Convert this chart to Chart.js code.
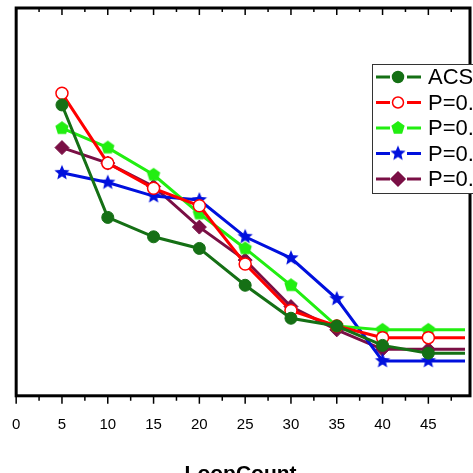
<!DOCTYPE html><html><head><style>html,body{margin:0;background:#fff}</style>
<script src="https://cdn.jsdelivr.net/npm/chart.js@4"></script></head><body>
<canvas id="c" width="473" height="473" style="width:473px;height:473px"></canvas>
<script>
const loops=[5,10,15,20,25,30,35,40,45,50];
const labels=["ACS","P=0.1","P=0.3","P=0.5","P=0.7"];
const acs=[75,46,41,38,28.5,20,18,13,11,11];
const p1=[78,60,53.5,49,34,22,18,15,15,15];
const p3=[69,64,57,47,38,28.5,18,17,17,17];
const p5=[57.5,55,51.5,50.5,41,35.5,25,9,9,9];
const p7=[64,60,54,43.5,35,23,17,12,12,12];
const xTicks=[0,5,10,15,20,25,30,35,40,45];
function poly(n,r,color,inner){const s=r*2+2,c=document.createElement('canvas');c.width=c.height=s;const g=c.getContext('2d');g.fillStyle=color;g.beginPath();const m=inner?n*2:n;for(let i=0;i<m;i++){const a=-Math.PI/2+i*2*Math.PI/m;const rr=inner&&i%2?r*inner:r;g.lineTo(s/2+rr*Math.cos(a),s/2+rr*Math.sin(a));}g.closePath();g.fill();return c;}
const cols=['#157015','#ff0000','#22ee11','#0010dd','#7a0f45'];
const styles=['circle','circle',poly(5,7,cols[2]),poly(5,8,cols[3],0.45),'rectRot'];
const series=[acs,p1,p3,p5,p7];
const ds=series.map((d,i)=>({label:labels[i],data:d.map((v,j)=>({x:loops[j],y:v})),borderColor:cols[i],backgroundColor:i==1?'#fff':cols[i],pointBorderColor:cols[i],borderWidth:3,pointStyle:styles[i],pointRadius:i==4?7:6,pointBorderWidth:i==1?1.5:1,tension:0}));
const deco={id:'deco',afterDraw(ch){const g=ch.ctx,a=ch.chartArea,x=ch.scales.x;g.save();g.strokeStyle='#000';g.lineWidth=3;g.strokeRect(a.left,a.top,a.right-a.left+5,a.bottom-a.top);g.lineWidth=1.5;
for(let v=0;v<=50;v+=2.5){const px=x.getPixelForValue(v);const L=v%5==0?7:4;g.beginPath();g.moveTo(px,a.bottom+1);g.lineTo(px,a.bottom+1+L);g.moveTo(px,a.top-1);g.lineTo(px,a.top+L);g.stroke();}
const lx=372,ly=64;g.fillStyle='#fff';g.fillRect(lx,ly,110,129);g.lineWidth=1;g.strokeStyle='#333';g.strokeRect(lx+0.5,ly+0.5,120,129);
g.font='22px "Liberation Sans", Arial';g.textBaseline='middle';
ch.data.datasets.forEach((d,i)=>{const y=ly+13+i*25.5;const mx=lx+26;g.strokeStyle=d.borderColor;g.lineWidth=3;g.beginPath();g.moveTo(lx+4,y);g.lineTo(lx+18,y);g.moveTo(lx+35,y);g.lineTo(lx+49,y);g.stroke();
const ps=d.pointStyle;if(typeof ps!=='string'){g.drawImage(ps,mx-ps.width/2,y-ps.height/2);}else{g.fillStyle=d.backgroundColor;g.strokeStyle=d.borderColor;g.lineWidth=1.5;g.beginPath();if(ps=='rectRot'){g.moveTo(mx,y-7);g.lineTo(mx+7,y);g.lineTo(mx,y+7);g.lineTo(mx-7,y);g.closePath();}else g.arc(mx,y,5.5,0,7);g.fill();g.stroke();}
g.fillStyle='#000';g.fillText(d.label,lx+56,y+1);});g.restore();}};
new Chart(document.getElementById('c'),{type:'line',data:{datasets:ds},plugins:[deco],options:{responsive:false,animation:false,layout:{padding:{left:-11,top:2,right:0,bottom:-14}},
plugins:{legend:{display:false},tooltip:{enabled:false}},
scales:{x:{type:'linear',min:0,max:49,grid:{display:false},border:{display:false},afterBuildTicks(s){s.ticks=xTicks.map(v=>({value:v}));},ticks:{color:'#000',font:{size:15,family:'"Liberation Sans", Arial'},padding:12,autoSkip:false,maxRotation:0},title:{display:true,text:'LoopCount',color:'#000',font:{size:21,weight:'bold',family:'"Liberation Sans", Arial'},padding:{top:16,bottom:0}}},
y:{min:0,max:100,display:false}}}});
</script></body></html>
